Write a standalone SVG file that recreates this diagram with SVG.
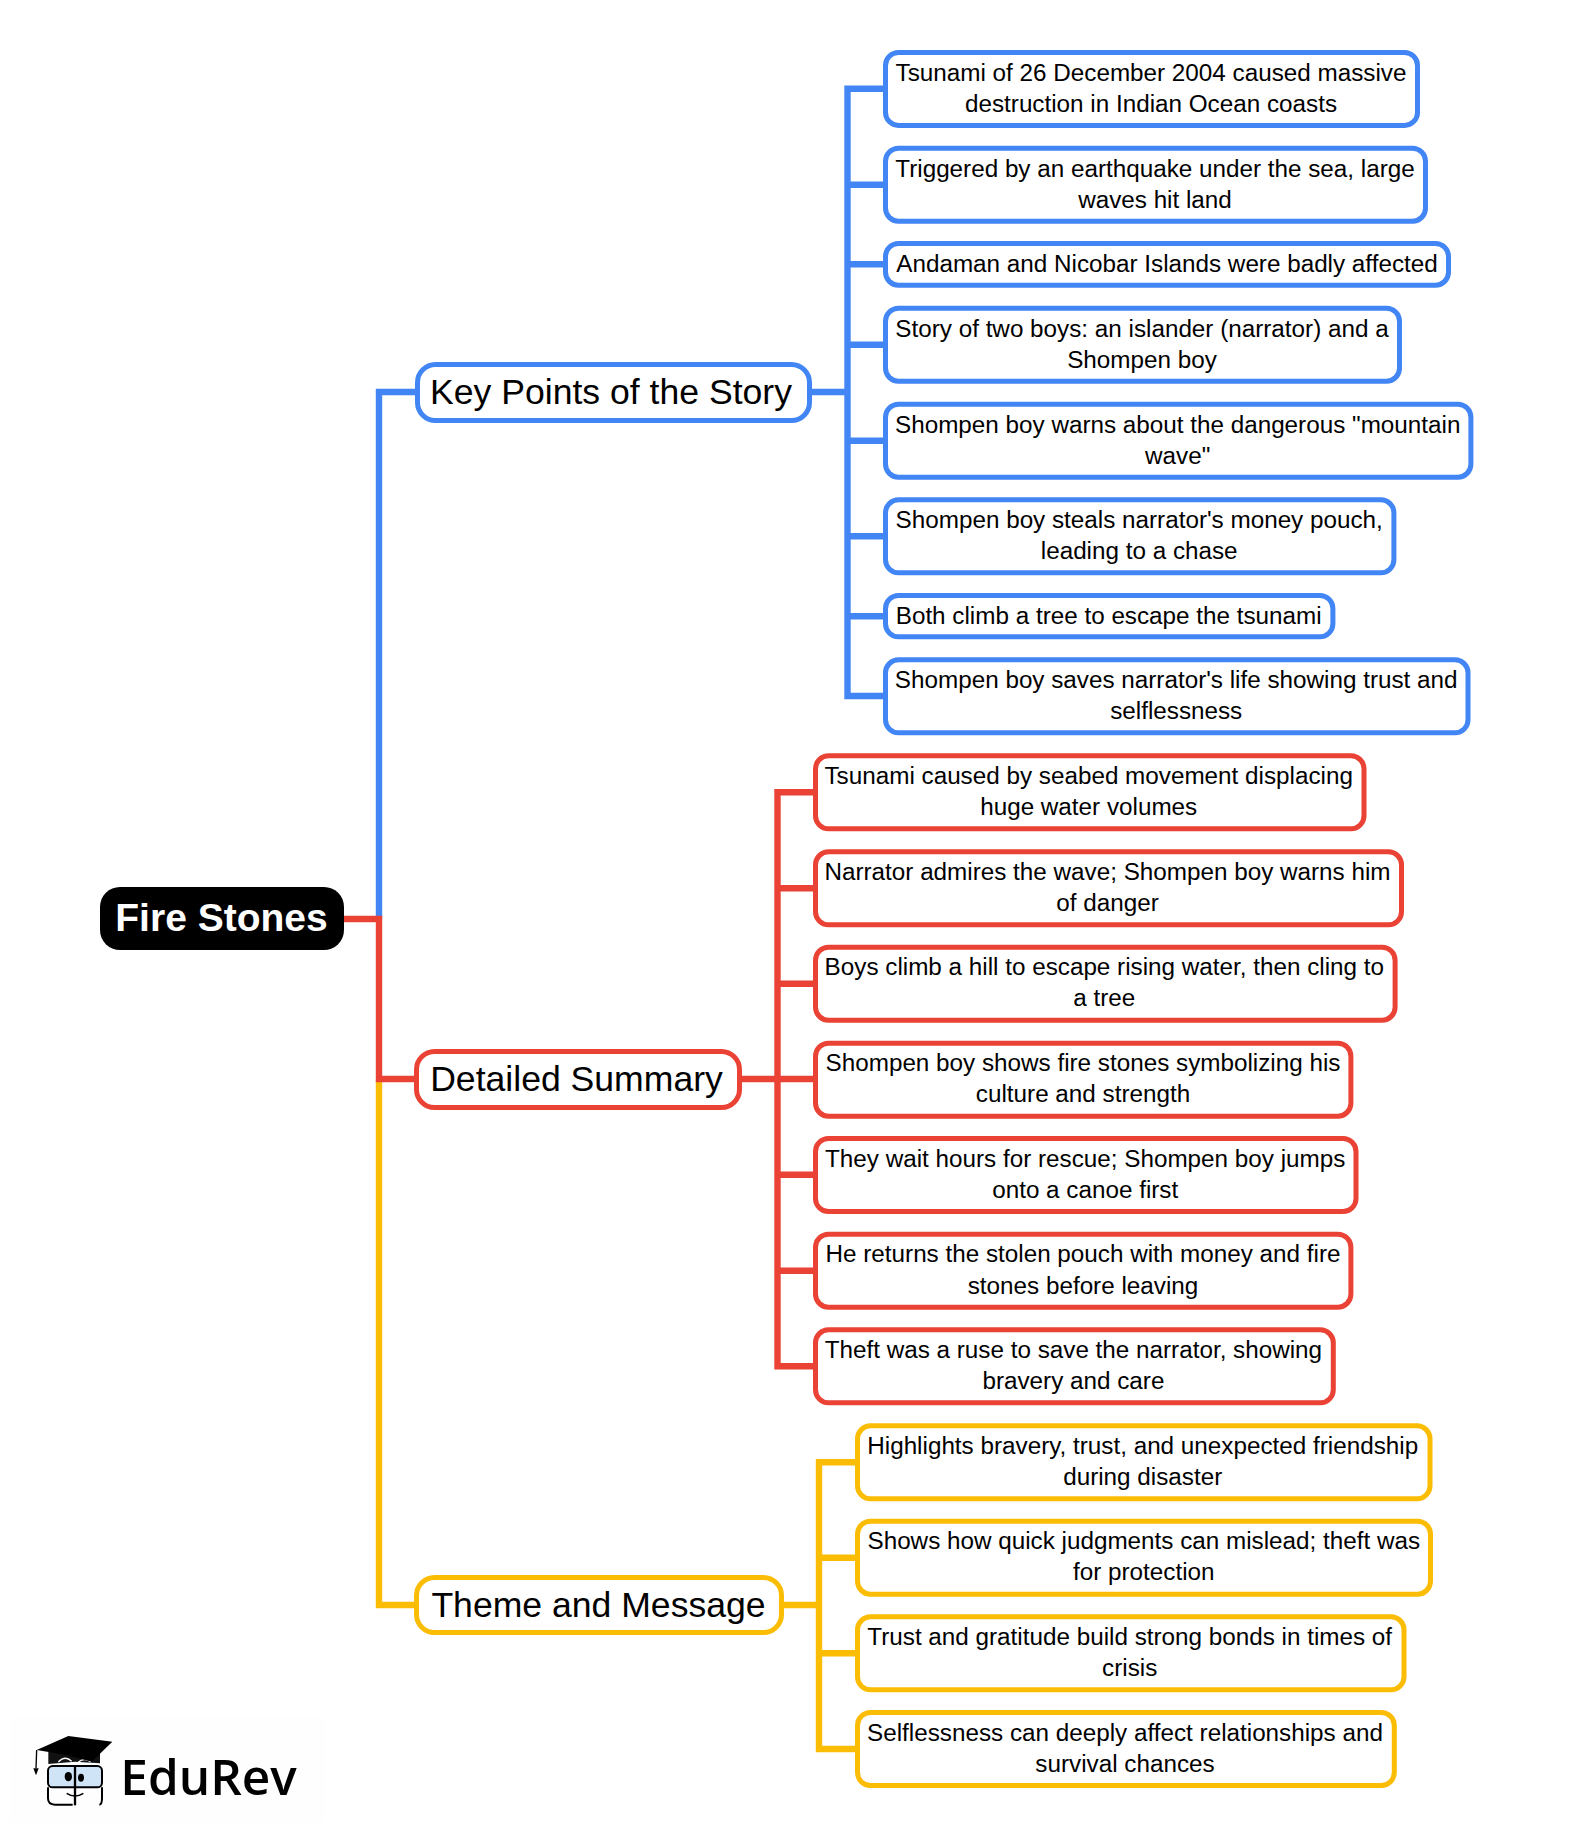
<svg xmlns="http://www.w3.org/2000/svg" width="1574" height="1838" viewBox="0 0 1574 1838">
<style>
text{font-family:"Liberation Sans",Arial,sans-serif;fill:#000;text-anchor:middle}
.leaf{font-size:24.25px}
.branch{font-size:35.6px}
.root{font-size:39px;font-weight:700;fill:#fff}
.box{fill:#fff;stroke-width:5}
.bl{stroke:#4285f4}.rd{stroke:#ea4335}.yl{stroke:#fbbc04}
.wire{fill:none;stroke-width:6.4;stroke-linejoin:miter}
</style>
<rect width="1574" height="1838" fill="#fff"/>
<g id="logo">
<rect x="10" y="1717" width="315" height="106" fill="#fefefe"/>
<g transform="translate(0 1700) scale(.33333)">
<path d="M145 155V192L225 185L300 190V150Z" fill="#111"/>
<path d="M175 186Q195 165 215 184M235 186Q255 172 272 186" fill="none" stroke="#fff" stroke-width="4"/>
<path d="M110 150L205 108L337 125L275 185L200 165Z" fill="#000"/>
<path d="M110 150L108 205" stroke="#000" stroke-width="4" fill="none"/>
<path d="M100 205H116L108 226Z" fill="#000"/>
<rect x="144" y="198" width="162" height="64" rx="14" fill="#cfe4f6" stroke="#000" stroke-width="6"/>
<path d="M218 314H165Q144 314 144 295V262M306 262V295Q306 314 298 314" fill="none" stroke="#000" stroke-width="6"/>
<path d="M225 198V316" stroke="#000" stroke-width="7" fill="none"/>
<ellipse cx="205" cy="230" rx="11" ry="14" fill="#000"/>
<ellipse cx="243" cy="233" rx="9" ry="12" fill="#000"/>
<path d="M200 280Q225 296 250 280" fill="none" stroke="#000" stroke-width="5"/>
</g>
<text x="208.5" y="1795" font-size="49.5" font-weight="600" style="font-family:'Open Sans','Noto Sans',sans-serif">EduRev</text>
</g>
<g id="root"><rect x="100" y="887" width="244" height="63" rx="20" fill="#000"/><text class="root" x="221.5" y="930.5">Fire Stones</text></g>
<g id="b1"><rect class="box bl" x="417.5" y="364.5" width="392" height="56" rx="18"/><text class="branch" x="611" y="404">Key Points of the Story</text></g>
<g id="b2"><rect class="box rd" x="416.5" y="1051.5" width="323" height="56" rx="18"/><text class="branch" x="576.5" y="1091">Detailed Summary</text></g>
<g id="b3"><rect class="box yl" x="416.5" y="1577.5" width="365" height="55" rx="18"/><text class="branch" x="598.5" y="1617">Theme and Message</text></g>
<g id="l1"><rect class="box bl" x="885.5" y="52.4" width="532" height="73" rx="13"/><text class="leaf" x="1151" y="81">Tsunami of 26 December 2004 caused massive</text><text class="leaf" x="1151" y="112">destruction in Indian Ocean coasts</text></g>
<g id="l2"><rect class="box bl" x="885.5" y="148.2" width="540" height="73" rx="13"/><text class="leaf" x="1155" y="176.7">Triggered by an earthquake under the sea, large</text><text class="leaf" x="1155" y="207.7">waves hit land</text></g>
<g id="l3"><rect class="box bl" x="885.5" y="243.5" width="563" height="41.7" rx="13"/><text class="leaf" x="1167" y="272">Andaman and Nicobar Islands were badly affected</text></g>
<g id="l4"><rect class="box bl" x="885.5" y="308.2" width="514" height="73" rx="13"/><text class="leaf" x="1142" y="336.7">Story of two boys: an islander (narrator) and a</text><text class="leaf" x="1142" y="367.7">Shompen boy</text></g>
<g id="l5"><rect class="box bl" x="885.5" y="404.2" width="585.4" height="73" rx="13"/><text class="leaf" x="1177.7" y="432.7">Shompen boy warns about the dangerous "mountain</text><text class="leaf" x="1177.7" y="463.7">wave"</text></g>
<g id="l6"><rect class="box bl" x="885.5" y="499.8" width="508.4" height="73" rx="13"/><text class="leaf" x="1139.2" y="528.3">Shompen boy steals narrator's money pouch,</text><text class="leaf" x="1139.2" y="559.3">leading to a chase</text></g>
<g id="l7"><rect class="box bl" x="885.5" y="595.5" width="447.4" height="41.3" rx="13"/><text class="leaf" x="1108.7" y="624">Both climb a tree to escape the tsunami</text></g>
<g id="l8"><rect class="box bl" x="885.5" y="659.8" width="582.5" height="73" rx="13"/><text class="leaf" x="1176.2" y="688.3">Shompen boy saves narrator's life showing trust and</text><text class="leaf" x="1176.2" y="719.3">selflessness</text></g>
<g id="r1"><rect class="box rd" x="815.5" y="755.8" width="548.5" height="73" rx="13"/><text class="leaf" x="1088.7" y="784.3">Tsunami caused by seabed movement displacing</text><text class="leaf" x="1088.7" y="815.3">huge water volumes</text></g>
<g id="r2"><rect class="box rd" x="815.5" y="851.8" width="586" height="73" rx="13"/><text class="leaf" x="1107.5" y="880.3">Narrator admires the wave; Shompen boy warns him</text><text class="leaf" x="1107.5" y="911.3">of danger</text></g>
<g id="r3"><rect class="box rd" x="815.5" y="947.2" width="579.6" height="73" rx="13"/><text class="leaf" x="1104.3" y="975">Boys climb a hill to escape rising water, then cling to</text><text class="leaf" x="1104.3" y="1006">a tree</text></g>
<g id="r4"><rect class="box rd" x="815.5" y="1043.2" width="535.4" height="73" rx="13"/><text class="leaf" x="1083" y="1071">Shompen boy shows fire stones symbolizing his</text><text class="leaf" x="1083" y="1102">culture and strength</text></g>
<g id="r5"><rect class="box rd" x="815.5" y="1138.5" width="540.5" height="73" rx="13"/><text class="leaf" x="1085.2" y="1167">They wait hours for rescue; Shompen boy jumps</text><text class="leaf" x="1085.2" y="1198">onto a canoe first</text></g>
<g id="r6"><rect class="box rd" x="815.5" y="1234.2" width="535.4" height="73" rx="13"/><text class="leaf" x="1083" y="1262">He returns the stolen pouch with money and fire</text><text class="leaf" x="1083" y="1293.7">stones before leaving</text></g>
<g id="r7"><rect class="box rd" x="815.5" y="1329.8" width="517.8" height="73" rx="13"/><text class="leaf" x="1073.4" y="1358.3">Theft was a ruse to save the narrator, showing</text><text class="leaf" x="1073.4" y="1389.3">bravery and care</text></g>
<g id="y1"><rect class="box yl" x="857.5" y="1425.8" width="572.5" height="73" rx="13"/><text class="leaf" x="1142.7" y="1454.3">Highlights bravery, trust, and unexpected friendship</text><text class="leaf" x="1142.7" y="1485.3">during disaster</text></g>
<g id="y2"><rect class="box yl" x="857.5" y="1521.2" width="573" height="73" rx="13"/><text class="leaf" x="1143.8" y="1549">Shows how quick judgments can mislead; theft was</text><text class="leaf" x="1143.8" y="1580">for protection</text></g>
<g id="y3"><rect class="box yl" x="857.5" y="1616.8" width="546.5" height="73" rx="13"/><text class="leaf" x="1129.7" y="1645">Trust and gratitude build strong bonds in times of</text><text class="leaf" x="1129.7" y="1676.3">crisis</text></g>
<g id="y4"><rect class="box yl" x="857.5" y="1712.5" width="536.8" height="73" rx="13"/><text class="leaf" x="1125" y="1741">Selflessness can deeply affect relationships and</text><text class="leaf" x="1125" y="1772">survival chances</text></g>
<g id="connectors">
<path class="wire bl" d="M418 392H379V919"/>
<path class="wire yl" d="M379 1079V1605H418"/>
<path class="wire rd" d="M344 919H379V1079H418"/>
<path class="wire bl" d="M809 392H847.5M888 88.8H847.5V696H888M847.5 184.7H888M847.5 264.3H888M847.5 344.7H888M847.5 440.7H888M847.5 536.3H888M847.5 616.2H888"/>
<path class="wire rd" d="M739 1079H818M818 792.3H777.5V1366.3H818M777.5 888.3H818M777.5 983.7H818M777.5 1174.7H818M777.5 1270.7H818"/>
<path class="wire yl" d="M781 1605H819M860 1462.3H819V1749H860M819 1557.7H860M819 1653.3H860"/>
</g>
</svg>
